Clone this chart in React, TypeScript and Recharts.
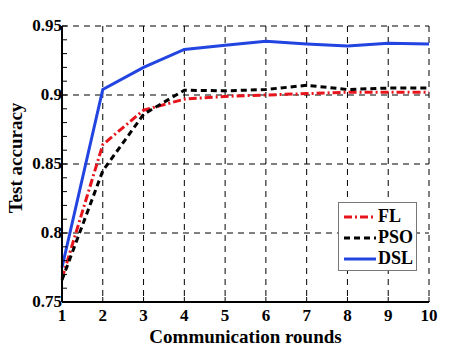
import React from 'react';
import { LineChart, Line, XAxis, YAxis, CartesianGrid } from 'recharts';

const rounds = [1, 2, 3, 4, 5, 6, 7, 8, 9, 10];
const flAcc = [0.767, 0.864, 0.889, 0.897, 0.899, 0.900, 0.901, 0.902, 0.902, 0.902];
const psoAcc = [0.766, 0.845, 0.886, 0.9035, 0.903, 0.904, 0.907, 0.904, 0.905, 0.905];
const dslAcc = [0.775, 0.904, 0.920, 0.933, 0.936, 0.939, 0.937, 0.9355, 0.9375, 0.937];

const xTicks = [1, 2, 3, 4, 5, 6, 7, 8, 9, 10];
const yTicks = [0.75, 0.8, 0.85, 0.9, 0.95];
const yMinorTicks = [0.75, 0.76, 0.77, 0.78, 0.79, 0.8, 0.81, 0.82, 0.83, 0.84, 0.85, 0.86, 0.87, 0.88, 0.89, 0.9, 0.91, 0.92, 0.93, 0.94, 0.95];

const data = rounds.map((r, i) => ({ round: r, FL: flAcc[i], PSO: psoAcc[i], DSL: dslAcc[i] }));

const font = '"Liberation Serif", "Times New Roman", serif';

const series = [
  { key: 'FL', color: '#e8141c', dash: '8 3 2 3' },
  { key: 'PSO', color: '#000000', dash: '6 4' },
  { key: 'DSL', color: '#2244e0', dash: undefined },
];

// ticks point inward (matlab style) via negative tickSize, so text is offset by hand
const XTick = ({ x, y, payload }: any) => (
  <text x={x} y={y + 24} textAnchor="middle" style={{ fontFamily: font, fontWeight: 'bold', fontSize: 17, fill: '#000' }}>
    {payload.value}
  </text>
);

const YTick = ({ x, y, payload }: any) => {
  const major = yTicks.find(t => Math.abs(t - Number(payload.value)) < 1e-6);
  if (major === undefined) return <g />;
  return (
    <text x={x - 5} y={y + 5} textAnchor="end" style={{ fontFamily: font, fontWeight: 'bold', fontSize: 17, fill: '#000' }}>
      {String(major)}
    </text>
  );
};

const XLabel = ({ viewBox }: any) => (
  <text x={viewBox.x + viewBox.width / 2} y={343} textAnchor="middle" style={{ fontFamily: font, fontWeight: 'bold', fontSize: 19, fill: '#000' }}>
    Communication rounds
  </text>
);

const YLabel = ({ viewBox }: any) => {
  const cy = viewBox.y + viewBox.height / 2 - 6;
  return (
    <text x={22} y={cy} transform={`rotate(-90 22 ${cy})`} textAnchor="middle" style={{ fontFamily: font, fontWeight: 'bold', fontSize: 19, fill: '#000' }}>
      Test accuracy
    </text>
  );
};

const LegendBox = () => (
  <div style={{ position: 'absolute', left: 338, top: 202, background: '#fff', border: '1px solid #777', width: 79, height: 69, boxSizing: 'border-box', padding: '3px 0 0 5px', fontFamily: font, fontWeight: 'bold', fontSize: 18, color: '#000' }}>
    {series.map(s => (
      <div key={s.key} style={{ display: 'flex', alignItems: 'center', height: 21 }}>
        <svg width={32} height={6} style={{ marginRight: 2 }}>
          <line x1={0} y1={3} x2={32} y2={3} stroke={s.color} strokeWidth={3} strokeDasharray={s.dash} />
        </svg>
        <span>{s.key}</span>
      </div>
    ))}
  </div>
);

export default function App() {
  return (
    <div style={{ position: 'absolute', left: 0, top: 0, width: 474, height: 348, background: '#fff', fontFamily: font }}>
      <LineChart width={474} height={348} data={data} margin={{ top: 26, right: 45, left: 0, bottom: 0 }}>
        <CartesianGrid stroke="#000" strokeDasharray="6 5" strokeWidth={1} horizontalValues={yTicks} verticalValues={xTicks} />
        <XAxis
          dataKey="round"
          type="number"
          domain={[1, 10]}
          ticks={xTicks}
          interval={0}
          height={46}
          stroke="#000"
          strokeWidth={2}
          tickSize={-5}
          tickMargin={0}
          tickLine={{ stroke: '#000', strokeWidth: 1 }}
          tick={<XTick />}
          label={<XLabel />}
        />
        <XAxis
          xAxisId="top"
          orientation="top"
          dataKey="round"
          type="number"
          domain={[1, 10]}
          ticks={xTicks}
          interval={0}
          height={0}
          stroke="#000"
          strokeWidth={2}
          tickSize={-5}
          tickLine={{ stroke: '#000', strokeWidth: 1 }}
          tick={() => <g />}
        />
        <YAxis
          type="number"
          domain={[0.75, 0.95]}
          ticks={yMinorTicks}
          interval={0}
          width={62}
          stroke="#000"
          strokeWidth={2}
          tickSize={-5}
          tickMargin={0}
          tickLine={{ stroke: '#000', strokeWidth: 1 }}
          tick={<YTick />}
          label={<YLabel />}
        />
        <YAxis
          yAxisId="right"
          orientation="right"
          type="number"
          domain={[0.75, 0.95]}
          ticks={yMinorTicks}
          interval={0}
          width={0}
          mirror
          stroke="#000"
          strokeWidth={2}
          tickSize={5}
          tickLine={{ stroke: '#000', strokeWidth: 1 }}
          tick={() => <g />}
        />
        {series.map(s => (
          <Line
            key={s.key}
            type="linear"
            dataKey={s.key}
            stroke={s.color}
            strokeWidth={3}
            strokeDasharray={s.dash}
            dot={false}
            isAnimationActive={false}
          />
        ))}
      </LineChart>
      <LegendBox />
    </div>
  );
}
